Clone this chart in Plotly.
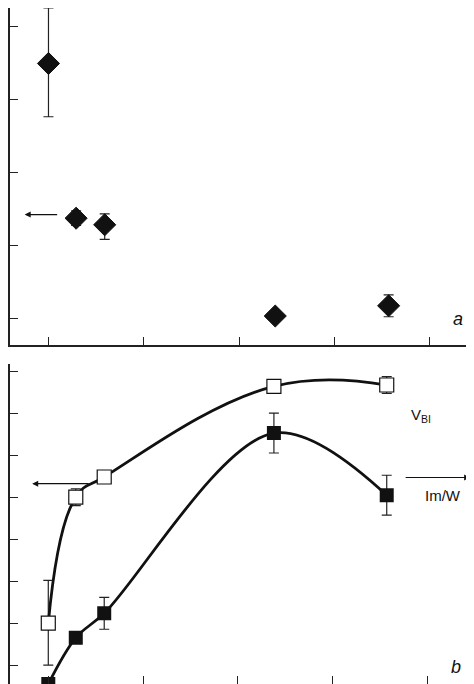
import plotly.graph_objects as go

# panel a
xa = [0, 0.29, 0.59, 2.38, 3.57]
ya = [3.5, 1.38, 1.29, 0.04, 0.18]
ea_up = [0.76, 0.1, 0.15, 0.0, 0.15]
ea_dn = [0.73, 0.1, 0.2, 0.0, 0.15]

# panel b
xb = [0, 0.29, 0.59, 2.38, 3.57]
vbi = [1.0, 4.0, 4.48, 6.64, 6.67]
vbi_up = [1.02, 0.2, 0.15, 0.15, 0.2]
vbi_dn = [1.0, 0.2, 0.15, 0.15, 0.2]
lmw = [-0.35, 0.46, 0.89, 4.05, 2.96]
lmw_err = [0.0, 0.0, 0.28, 0.35, 0.35]

fig = go.Figure()
fig.add_trace(go.Scatter(x=xa, y=ya, mode='markers', xaxis='x', yaxis='y',
    marker=dict(symbol='diamond', size=17, color='#111', line=dict(color='#111', width=1)),
    error_y=dict(type='data', array=ea_up, arrayminus=ea_dn, color='#222', thickness=1.2, width=5)))
fig.add_trace(go.Scatter(x=xb, y=vbi, mode='lines+markers', xaxis='x2', yaxis='y2',
    line=dict(color='#111', width=2.8, shape='spline', smoothing=1.2),
    marker=dict(symbol='square', size=14, color='white', line=dict(color='#111', width=1.2)),
    error_y=dict(type='data', array=vbi_up, arrayminus=vbi_dn, color='#222', thickness=1.2, width=5)))
fig.add_trace(go.Scatter(x=xb, y=lmw, mode='lines+markers', xaxis='x2', yaxis='y3',
    line=dict(color='#111', width=2.8, shape='spline', smoothing=1.0),
    marker=dict(symbol='square', size=14, color='#111'),
    error_y=dict(type='data', array=lmw_err, color='#222', thickness=1.2, width=5)))

ax = dict(showgrid=False, zeroline=False, showticklabels=False, ticks='inside',
          ticklen=8, tickcolor='#222', linecolor='#222', linewidth=1.5, showline=True)
xr = [-0.4, 4.55]
fig.update_layout(
    width=474, height=684, margin=dict(l=0, r=0, t=0, b=0),
    plot_bgcolor='white', paper_bgcolor='white', showlegend=False,
    xaxis=dict(ax, range=xr, domain=[0.005, 1], anchor='y', tickvals=[0, 1, 2, 3, 4]),
    yaxis=dict(ax, range=[-0.36, 4.26], domain=[0.507, 1], anchor='x', tickvals=[0, 1, 2, 3, 4]),
    xaxis2=dict(ax, range=xr, domain=[0.005, 0.995], anchor='y2', tickvals=[0, 1, 2, 3, 4]),
    yaxis2=dict(ax, range=[-0.45, 7.17], domain=[0.0117, 0.4795], anchor='x2', tickvals=[0, 1, 2, 3, 4, 5, 6, 7]),
    yaxis3=dict(ax, range=[-0.35, 5.26], overlaying='y2', side='right', anchor='x2',
                tickvals=[0, 1, 2, 3, 4, 5]),
)
f = dict(family='Liberation Sans', size=15, color='#111')
fig.add_annotation(x=-0.25, y=1.43, ax=34, ay=0, xref='x', yref='y', text='', showarrow=True,
                   arrowhead=2, arrowwidth=1.2, arrowcolor='#111')
fig.add_annotation(x=-0.17, y=4.32, ax=58, ay=0, xref='x2', yref='y2', text='', showarrow=True,
                   arrowhead=2, arrowwidth=1.2, arrowcolor='#111')
fig.add_annotation(x=4.45, y=3.27, ax=-66, ay=0, xref='x2', yref='y3', text='', showarrow=True,
                   arrowhead=2, arrowwidth=1.2, arrowcolor='#111')
fig.add_annotation(x=3.8, y=5.95, xref='x2', yref='y2', text='V<sub>BI</sub>', showarrow=False, font=f, xanchor='left')
fig.add_annotation(x=3.95, y=2.95, xref='x2', yref='y3', text='Im/W', showarrow=False, font=f, xanchor='left')
fig.add_annotation(x=4.3, y=0.0, xref='x', yref='y', text='<i>a</i>', showarrow=False, font=dict(f, size=18))
fig.add_annotation(x=4.3, y=-0.05, xref='x2', yref='y3', text='<i>b</i>', showarrow=False, font=dict(f, size=18))

fig.write_html("out.html")
